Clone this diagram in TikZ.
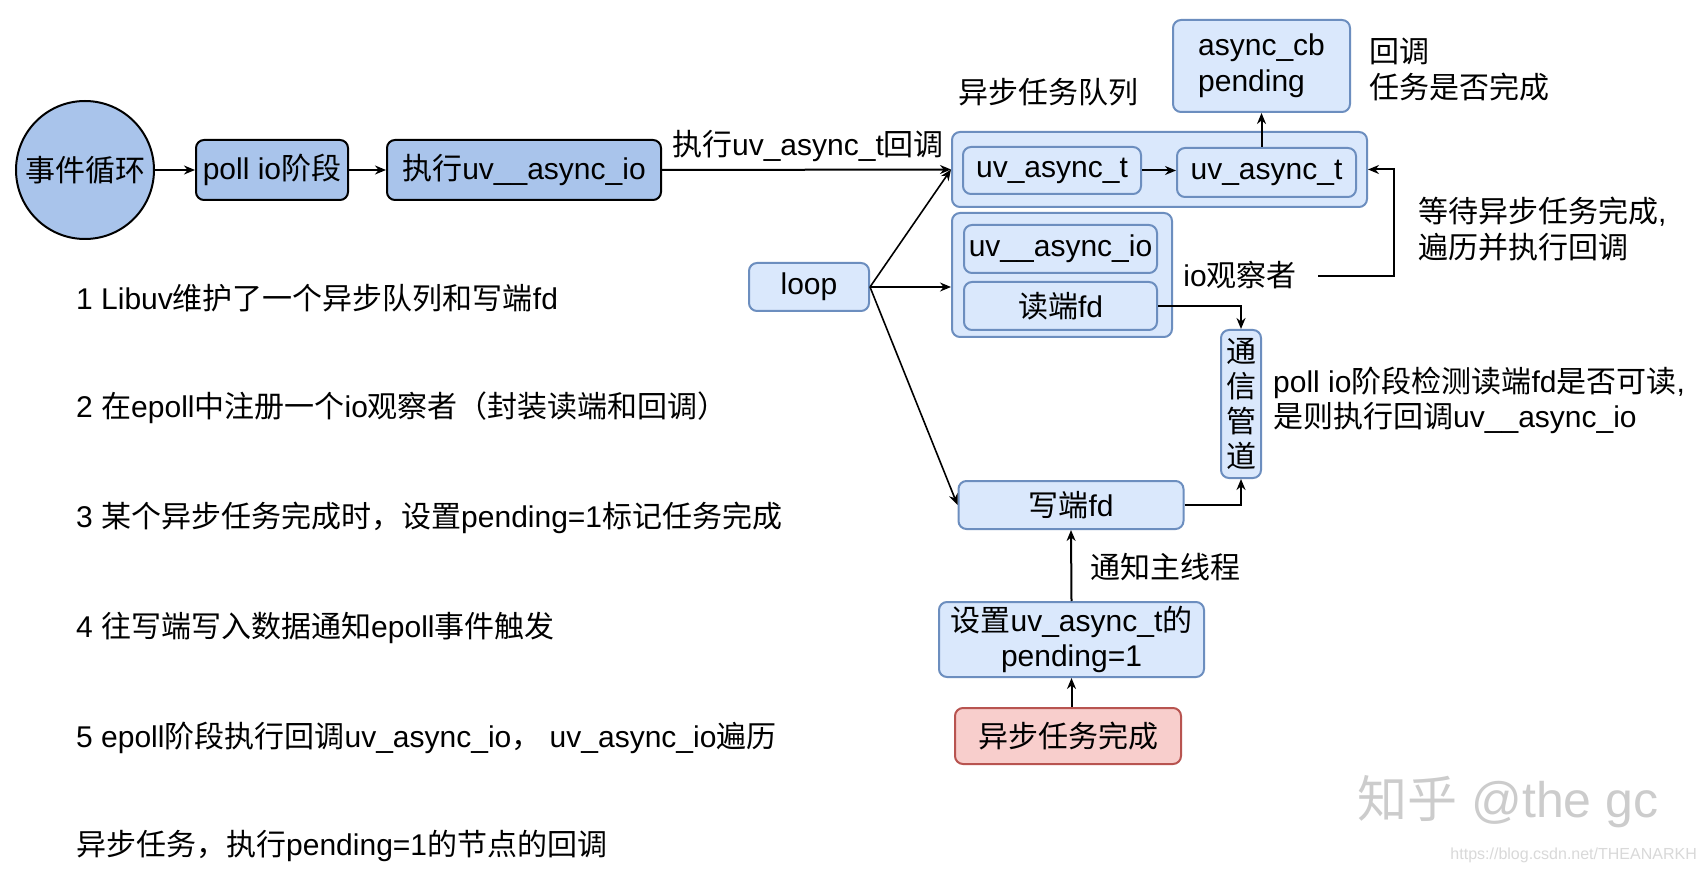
\documentclass[tikz,border=0pt]{standalone}
\usepackage{fontspec}
\setmainfont{Liberation Sans}
\newfontfamily\cjkfont{Noto Sans CJK SC}
\newfontfamily\latfont{Liberation Sans}
\XeTeXinterchartokenstate=1
\newXeTeXintercharclass\CJKcls
\newcount\cjkc
\cjkc="3000
\loop\ifnum\cjkc<"3040 \XeTeXcharclass\cjkc=\CJKcls \advance\cjkc by 1 \repeat
\cjkc="4E00
\loop\ifnum\cjkc<"A000 \XeTeXcharclass\cjkc=\CJKcls \advance\cjkc by 1 \repeat
\cjkc="FF00
\loop\ifnum\cjkc<"FFF0 \XeTeXcharclass\cjkc=\CJKcls \advance\cjkc by 1 \repeat
\XeTeXinterchartoks 0 \CJKcls = {\cjkfont}
\XeTeXinterchartoks 4095 \CJKcls = {\cjkfont}
\XeTeXinterchartoks \CJKcls 0 = {\latfont}
\XeTeXinterchartoks \CJKcls 4095 = {\latfont}
\usetikzlibrary{arrows.meta}
\definecolor{dkfill}{HTML}{A9C4EB}
\definecolor{ltfill}{HTML}{DAE8FC}
\definecolor{ltline}{HTML}{6C8EBF}
\definecolor{rdfill}{HTML}{F8CECC}
\definecolor{rdline}{HTML}{B85450}
\tikzset{
  darkbox/.style={draw=black, fill=dkfill, line width=2pt, rounded corners=8pt, inner sep=0pt, align=center},
  litebox/.style={draw=ltline, fill=ltfill, line width=2pt, rounded corners=8pt, inner sep=0pt, align=center},
  redbox/.style={draw=rdline, fill=rdfill, line width=2pt, rounded corners=8pt, inner sep=0pt, align=center},
  conn/.style={line width=2pt, -{Stealth[length=11pt,width=9pt]}},
  thinconn/.style={line width=1.6pt, -{Stealth[length=11pt,width=9pt]}},
  txt/.style={inner sep=0pt, align=left},
}
\begin{document}
\begin{tikzpicture}[x=1pt,y=-1pt, every node/.style={font=\fontsize{30}{36}\selectfont}]
\fill[white] (0,0) rectangle (1702,874);
\useasboundingbox (0,0) rectangle (1702,874);

% top chain
\node[circle, draw=black, fill=dkfill, line width=2pt, minimum size=138pt, inner sep=0pt] (circ) at (85,170) {事件循环};
\node[darkbox, minimum width=152pt, minimum height=60pt] (poll) at (272,170) {poll io阶段};
\node[darkbox, minimum width=274pt, minimum height=60pt] (exec) at (524,170) {执行uv\_\_async\_io};

% async queue container
\node[litebox, minimum width=415pt, minimum height=75pt] (qc) at (1159.5,169.5) {};
\node[litebox, minimum width=178pt, minimum height=47pt] (ua1) at (1052,170.5) {uv\_async\_t};
\node[litebox, minimum width=179pt, minimum height=49pt] (ua2) at (1266.5,172.5) {uv\_async\_t};
\node[txt] (qlbl) at (1048,92) {异步任务队列};

\node[litebox, minimum width=177pt, minimum height=92pt, align=left] (acb) at (1261.5,66) {async\_cb\\pending};
\node[txt, anchor=west] (acblbl) at (1369,70) {回调\\任务是否完成};

% io observer container
\node[litebox, minimum width=220pt, minimum height=124pt] (ioc) at (1062,275) {};
\node[litebox, minimum width=193pt, minimum height=48pt] (uaio) at (1060.5,249) {uv\_\_async\_io};
\node[litebox, minimum width=193pt, minimum height=48pt] (rfd) at (1060.5,306) {读端fd};
\node[txt] (iolbl) at (1240,275) {io观察者};
\node[txt, anchor=west] (waitlbl) at (1418,229) {等待异步任务完成,\\遍历并执行回调};

\node[litebox, minimum width=120pt, minimum height=48pt] (loop) at (809,287) {loop};

\node[litebox, minimum width=40pt, minimum height=148pt, font=\fontsize{30}{35}\selectfont] (pipe) at (1241,404) {通\\信\\管\\道};
\node[txt, anchor=west, font=\fontsize{30}{35}\selectfont] (pipelbl) at (1273,400) {poll io阶段检测读端fd是否可读,\\是则执行回调uv\_\_async\_io};

\node[litebox, minimum width=225pt, minimum height=48pt] (wfd) at (1071,505) {写端fd};
\node[txt, anchor=west] (notify) at (1090,567) {通知主线程};
\node[litebox, minimum width=265pt, minimum height=75pt, font=\fontsize{30}{35}\selectfont] (setp) at (1071.5,639.5) {设置uv\_async\_t的\\pending=1};
\node[redbox, minimum width=226pt, minimum height=56pt] (done) at (1068,736) {异步任务完成};

% left notes
\node[txt, anchor=west] (n1) at (76,298) {1 Libuv维护了一个异步队列和写端fd};
\node[txt, anchor=west] (n2) at (76,408) {2 在epoll中注册一个io观察者（封装读端和回调）};
\node[txt, anchor=west] (n3) at (76,518) {3 某个异步任务完成时，设置pending=1标记任务完成};
\node[txt, anchor=west] (n4) at (76,628) {4 往写端写入数据通知epoll事件触发};
\node[txt, anchor=west] (n5) at (76,738) {5 epoll阶段执行回调uv\_async\_io， uv\_async\_io遍历};
\node[txt, anchor=west] (n6) at (76,846) {异步任务，执行pending=1的节点的回调};

% connectors
\draw[conn] (circ.east) -- (poll.west);
\draw[conn] (poll.east) -- (exec.west);
\draw[conn] (exec.east) -- (qc.west);
\node[txt] (execlbl) at (808,146) {执行uv\_async\_t回调};
\draw[conn] (ua1.east) -- (ua1.east -| ua2.west);
\draw[conn] (acb.south |- ua2.north) -- (acb.south);

\draw[thinconn] (loop.east) -- (qc.west);
\draw[thinconn] (loop.east) -- (loop.east -| ioc.west);
\draw[thinconn] (loop.east) -- (wfd.west);

\coordinate (iostart) at (1318,276);
\coordinate (iobend) at (1394,276);
\draw[conn] (iostart) -- (iobend) |- (qc.east);

\draw[conn] (rfd.east) -| (pipe.north);
\draw[conn] (wfd.east) -| (pipe.south);
\draw[conn] (setp.north) -- (wfd.south);
\draw[conn] (setp.south |- done.north) -- (setp.south);

% watermark
\node[inner sep=0pt, text=black!20, font=\fontsize{50}{50}\selectfont] (wm) at (1508,802) {知乎 @the gc};
\node[inner sep=0pt, anchor=east, text=black!15, font=\fontsize{16}{16}\selectfont] (url) at (1697,855) {https://blog.csdn.net/THEANARKH};
\end{tikzpicture}
\end{document}
